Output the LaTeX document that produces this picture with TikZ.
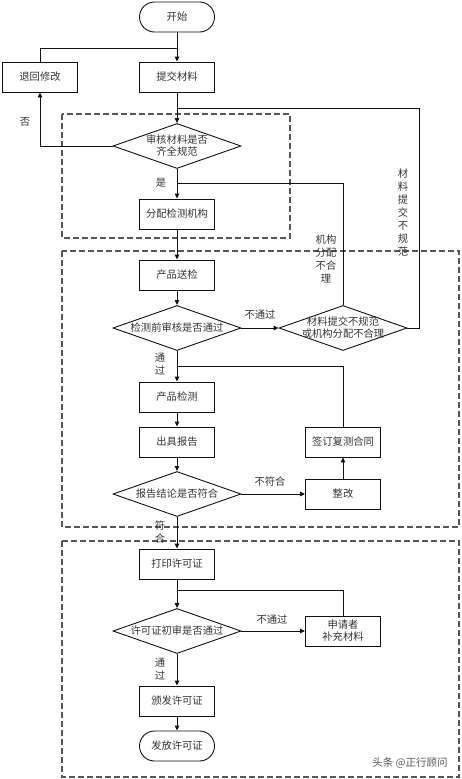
\documentclass[tikz,border=0pt]{standalone}
\usepackage{fontspec}
\usepackage{tikz}
\usetikzlibrary{arrows.meta,positioning,shapes.geometric}
\newfontfamily\cjk{Noto Sans CJK SC}
\definecolor{ln}{HTML}{111111}
\definecolor{dsh}{HTML}{555555}
\definecolor{txt}{HTML}{333333}

\tikzset{
  proc/.style={draw=ln,line width=0.9pt,minimum width=75pt,minimum height=30pt,inner sep=0pt,
    font=\cjk\fontsize{10.3}{12}\selectfont,text=txt,align=center},
  term/.style={proc,rounded corners=15pt},
  dec/.style={draw=ln,line width=0.9pt,diamond,aspect=2.84,minimum width=128pt,minimum height=45pt,
    inner sep=0pt,font=\cjk\fontsize{10.3}{12}\selectfont,text=txt,align=center},
  tight/.style={inner sep=-6pt},
  lbl/.style={font=\cjk\fontsize{10.3}{13}\selectfont,text=txt,align=center,inner sep=0pt},
  flow/.style={ln,line width=0.9pt},
  arr/.style={flow,-{Triangle[length=5pt,width=4.5pt]}},
  zone/.style={dsh,line width=1.1pt,dash pattern=on 6pt off 3pt}
}

\begin{document}
\begin{tikzpicture}[x=1pt,y=-1pt]
  \useasboundingbox (0,0) rectangle (461,779);
  % dashed stage frames
  \draw[zone] (62,114) rectangle (290,238);
  \draw[zone] (62,251) rectangle (459,527);
  \draw[zone] (62,541) rectangle (459,777);

  % main column
  \node[term] (start) at (177,17) {开始};
  \node[proc] (back) at (40,77) {退回修改};
  \node[proc] (submit) at (177,77) {提交材料};
  \node[dec,tight] (chk) at (177,146) {审核材料是否\\齐全规范};
  \node[proc] (assign) at (177,214) {分配检测机构};
  \node[proc] (send) at (177,275) {产品送检};
  \node[dec] (pre) at (177,328) {检测前审核是否通过};
  \node[dec,tight] (bad) at (343,328) {材料提交不规范\\或机构分配不合理};
  \node[proc] (test) at (177,397) {产品检测};
  \node[proc] (report) at (177,442) {出具报告};
  \node[proc] (contract) at (343,442) {签订复测合同};
  \node[dec] (concl) at (177,494) {报告结论是否符合};
  \node[proc] (fix) at (343,494) {整改};
  \node[proc] (print) at (177,564) {打印许可证};
  \node[dec] (lic) at (177,631) {许可证初审是否通过};
  \node[proc] (supp) at (343,631) {申请者\\补充材料};
  \node[proc] (issue) at (177,701) {颁发许可证};
  \node[term] (final) at (177,746) {发放许可证};

  % joins where return lines meet the main column
  \coordinate (j0) at (177,48);
  \coordinate (j1) at (177,108);
  \coordinate (j2) at (177,183);
  \coordinate (j3) at (177,366);
  \coordinate (j4) at (177,590);

  \draw[arr] (start) -- (submit);
  \draw[flow] (back.north) |- (j0);
  \draw[arr] (submit) -- (chk);
  \draw[flow] (bad.east) -- ++(12,0) |- (j1);
  \draw[arr] (chk.west) -| (back.south);
  \draw[arr] (chk) -- (assign);
  \draw[flow] (bad.north) |- (j2);
  \draw[arr] (assign) -- (send);
  \draw[arr] (send) -- (pre);
  \draw[arr] (pre) -- (bad);
  \draw[arr] (pre) -- (test);
  \draw[flow] (contract.north) |- (j3);
  \draw[arr] (test) -- (report);
  \draw[arr] (report) -- (concl);
  \draw[arr] (concl) -- (fix);
  \draw[arr] (fix) -- (contract);
  \draw[arr] (concl) -- (print);
  \draw[arr] (print) -- (lic);
  \draw[flow] (supp.north) |- (j4);
  \draw[arr] (lic) -- (supp);
  \draw[arr] (lic) -- (issue);
  \draw[arr] (issue) -- (final);

  % branch labels
  \node[lbl] (no1) at (25,122) {否};
  \node[lbl] (yes1) at (161,183) {是};
  \node[lbl] (badtxt) at (403,213) {材\\料\\提\\交\\不\\规\\范};
  \node[lbl] (orgtxt) at (326,259) {机构\\分配\\不合\\理};
  \node[lbl] (fail1) at (260,315) {不通过};
  \node[lbl] (pass1) at (160,364) {通\\过};
  \node[lbl] (fail2) at (270,482) {不符合};
  \node[lbl] (pass2) at (160,532) {符\\合};
  \node[lbl] (fail3) at (272,620) {不通过};
  \node[lbl] (pass3) at (160,669) {通\\过};
  \node[lbl,text=dsh,font=\cjk\fontsize{10.5}{12}\selectfont] (mark) at (410,763) {头条 @正行顾问};
\end{tikzpicture}
\end{document}
